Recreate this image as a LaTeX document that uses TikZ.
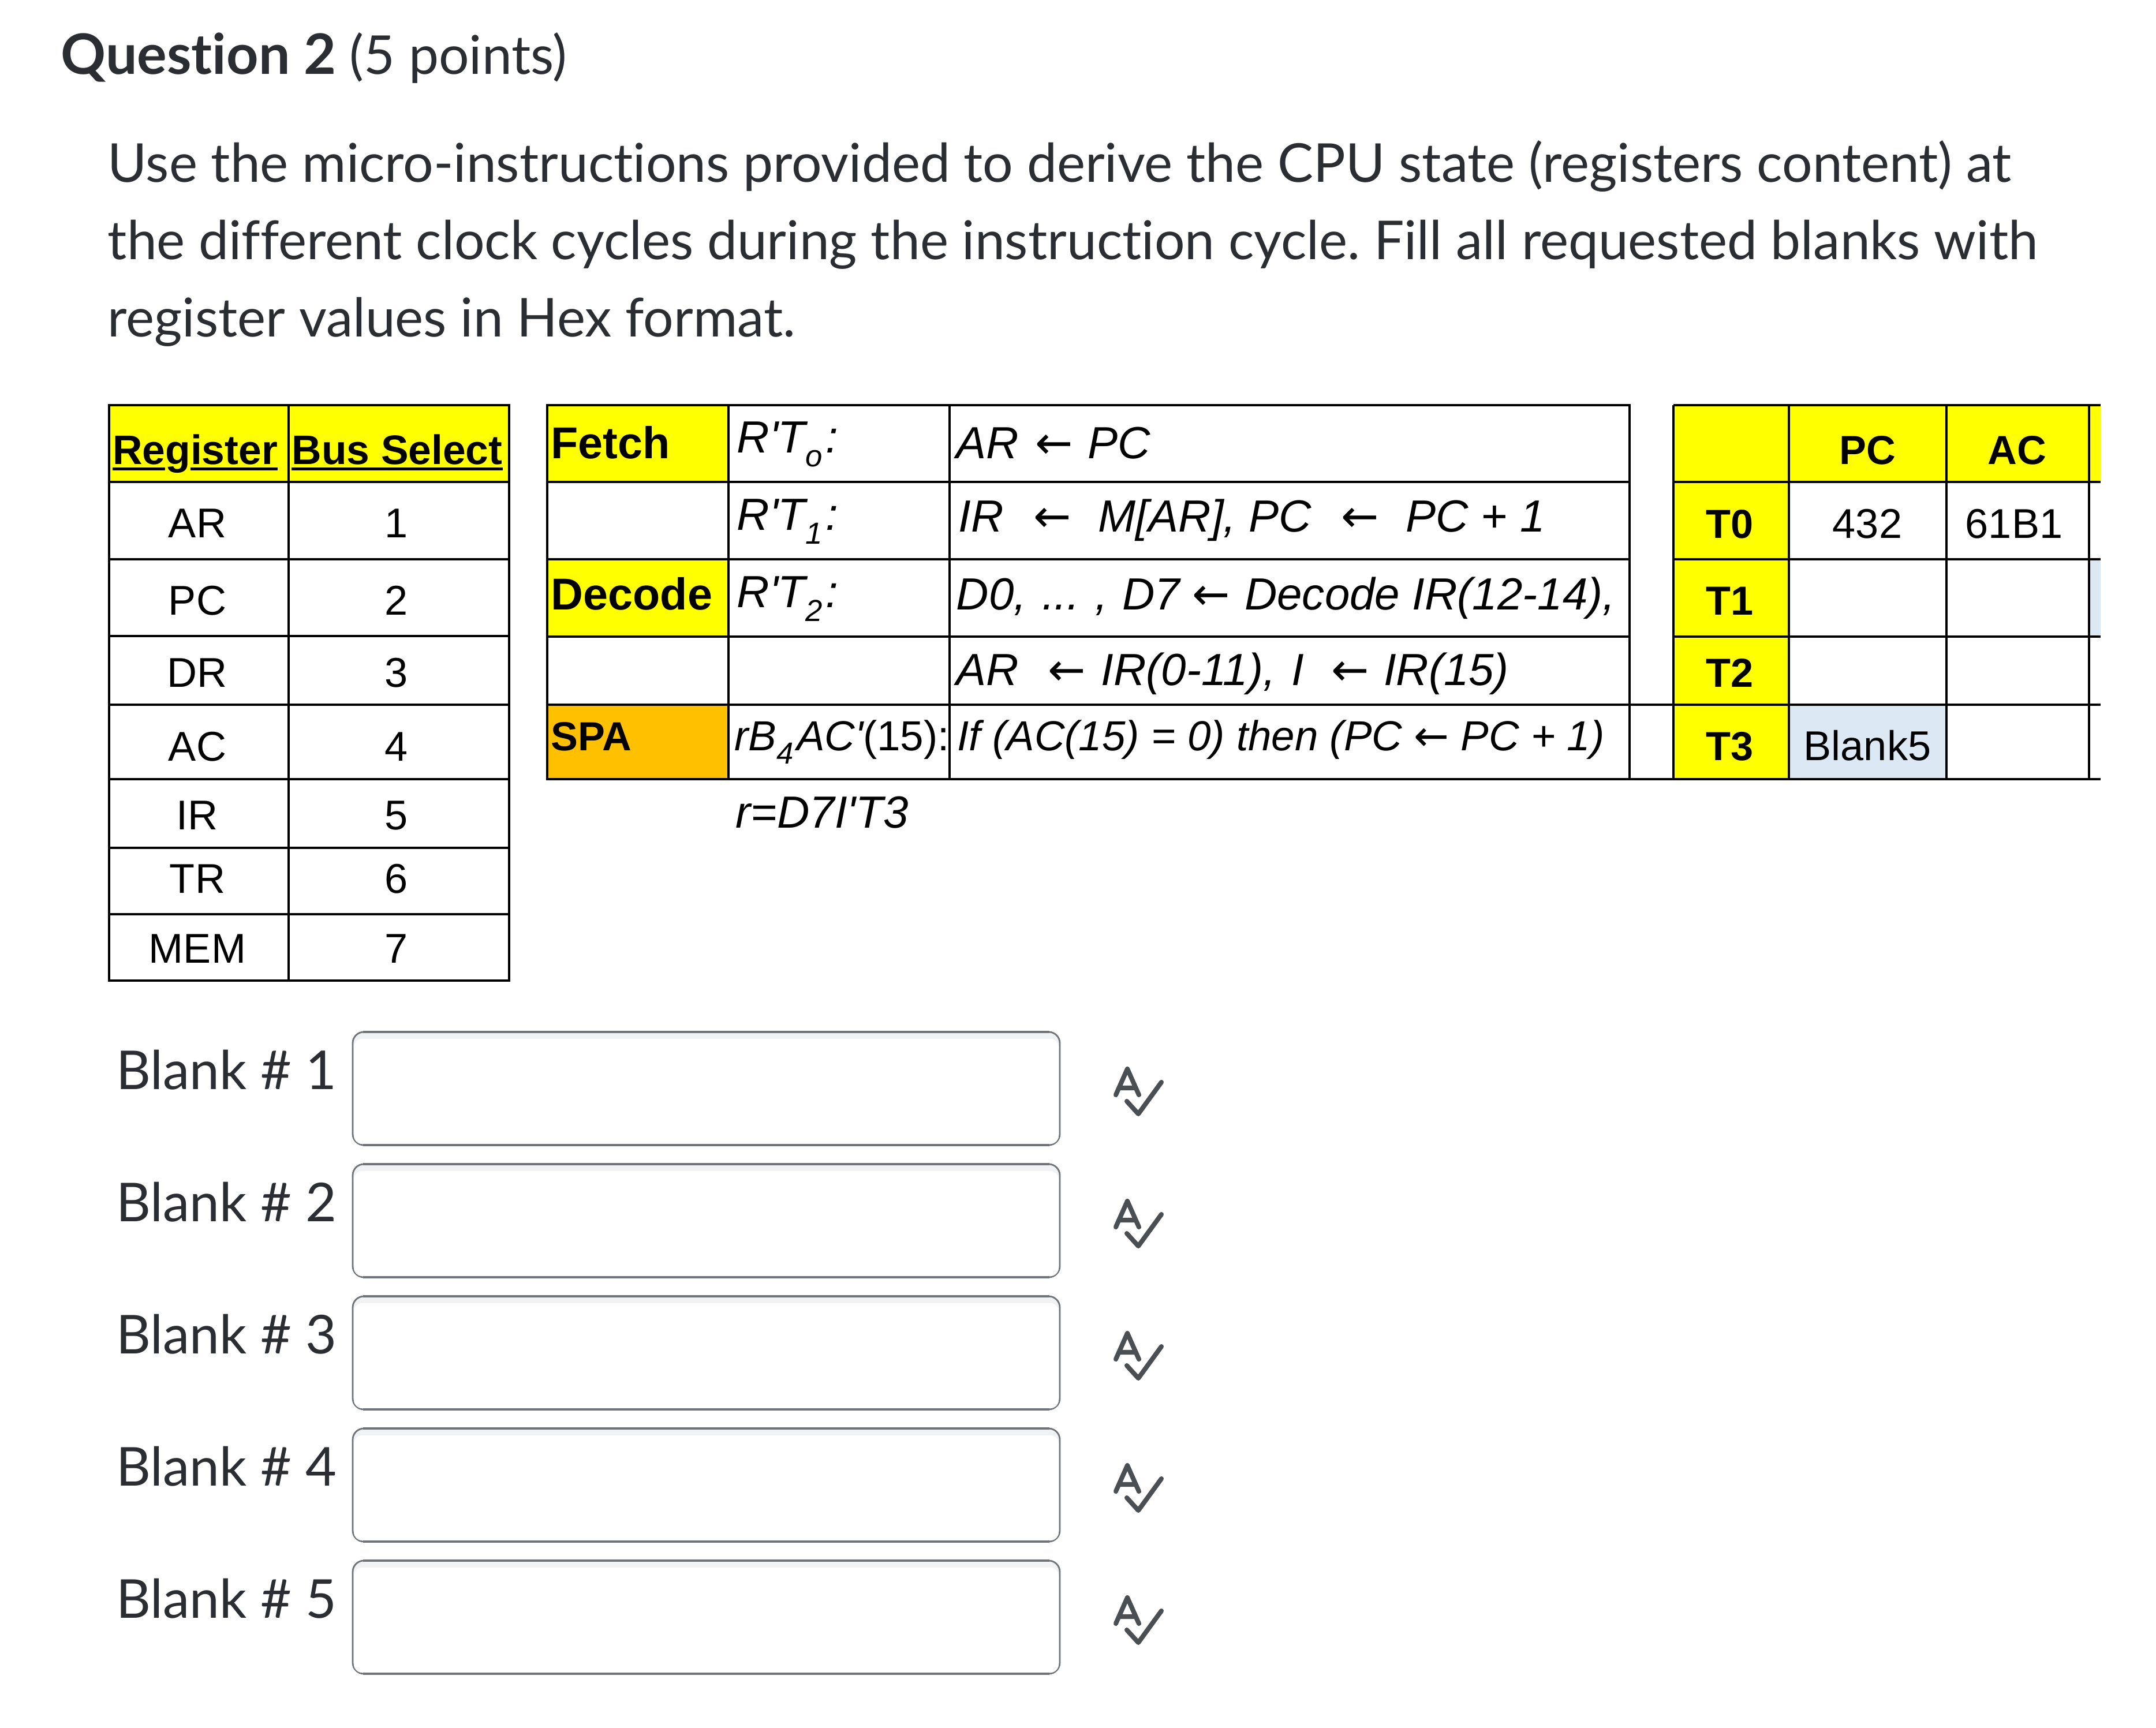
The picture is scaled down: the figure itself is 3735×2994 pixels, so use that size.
\documentclass[tikz,border=0pt]{standalone}
\usepackage{fontspec}
\setmainfont{Lato}[Ligatures=NoCommon]
\newfontfamily\tablefont{Liberation Sans}
\newfontfamily\arrowfont{DejaVu Sans}
\definecolor{canvasink}{HTML}{2A2E32}
\definecolor{boxedge}{HTML}{6E7479}
\definecolor{boxshade}{HTML}{F0F2F4}
\definecolor{iconink}{HTML}{4A4F54}
\definecolor{cellyellow}{HTML}{FFFF00}
\definecolor{cellorange}{HTML}{FFC000}
\definecolor{cellblue}{HTML}{DCE9F5}
\tikzset{
	lead/.style={anchor=base west, inner sep=0pt, text=canvasink, font=\fontsize{26.4}{30}\selectfont},
	rule/.style={line width=1.15pt, black},
	cell/.style={anchor=base, inner sep=0pt, font=\tablefont\fontsize{20.5}{24}\selectfont},
	headcell/.style={anchor=base, inner sep=0pt, font=\tablefont\bfseries\fontsize{20}{24}\selectfont},
	tagcell/.style={anchor=base west, inner sep=0pt, font=\tablefont\bfseries\fontsize{22}{26}\selectfont},
	step cell/.style={anchor=base west, inner sep=0pt, font=\tablefont\itshape\fontsize{22.2}{26}\selectfont},
	small step/.style={anchor=base west, inner sep=0pt, font=\tablefont\itshape\fontsize{20.7}{24}\selectfont},
	answerfield/.pic={
		\draw[draw=boxedge, line width=0.8pt, fill=boxshade, rounded corners=5.5pt] (0,0) rectangle (1225,196);
		\fill[white, rounded corners=4pt] (2,12) rectangle (1223,194);
		\draw[boxedge, line width=1.3pt] (18,0) -- (1207,0);
		\draw[boxedge, line width=1.3pt] (18,196) -- (1207,196);
	},
	spellcheck/.pic={
		\draw[iconink, line width=2.3pt, line cap=round, line join=round]
			(-20,45) -- (0,0) -- (20,45) (-12,33) -- (12,33)
			(-1,56) -- (19,78) -- (59,23);
	}
}
\newcommand{\lowsub}[1]{\raisebox{-0.32em}{\fontsize{15}{17}\selectfont #1}\kern1.5pt}
\newcommand{\larrow}{{\arrowfont\upshape ←}}
\newcommand{\barred}[1]{\setbox0\hbox{#1}\rlap{\rule[-3pt]{\wd0}{1.4pt}}\box0}
\begin{document}
\begin{tikzpicture}[x=0.01cm, y=-0.01cm]
	\useasboundingbox (0,0) rectangle (3735,2994);
	\frenchspacing

	\node[lead] (title) at (105,129) {{\fontsize{27.5}{30}\selectfont\textbf{Question 2}} (5 points)};
	\node[lead] (lineone) at (186,315) {Use the micro-instructions provided to derive the CPU state (registers content) at};
	\node[lead] (linetwo) at (186,449) {the different clock cycles during the instruction cycle. Fill all requested blanks with};
	\node[lead] (linethree) at (186,583) {register values in Hex format.};

	% colored cells
	\fill[cellyellow] (189,702) rectangle (882,835);
	\fill[cellyellow] (948,702) rectangle (1262,835);
	\fill[cellyellow] (948,969) rectangle (1262,1103);
	\fill[cellorange] (948,1221) rectangle (1262,1350);
	\fill[cellyellow] (2899,702) rectangle (3639,835);
	\fill[cellyellow] (2899,835) rectangle (3099,1350);
	\fill[cellblue] (3099,1221) rectangle (3372,1350);
	\fill[cellblue] (3619,969) rectangle (3639,1103);

	% registers
	\draw[rule] (189,702) rectangle (882,1699);
	\draw[rule] (500,702) -- (500,1699);
	\draw[rule] (189,835) -- (882,835);
	\draw[rule] (189,969) -- (882,969);
	\draw[rule] (189,1102) -- (882,1102);
	\draw[rule] (189,1221) -- (882,1221);
	\draw[rule] (189,1350) -- (882,1350);
	\draw[rule] (189,1469) -- (882,1469);
	\draw[rule] (189,1584) -- (882,1584);

	\node[headcell, font=\tablefont\bfseries\fontsize{20.3}{24}\selectfont] (reghead) at (338,804) {\barred{Re}g\barred{ister}};
	\node[headcell, font=\tablefont\bfseries\fontsize{20.3}{24}\selectfont] (bushead) at (688,804) {\barred{Bus Select}};
	\node[cell] (regar) at (342,931) {AR};
	\node[cell] (busar) at (687,931) {1};
	\node[cell] (regpc) at (342,1065) {PC};
	\node[cell] (buspc) at (687,1065) {2};
	\node[cell] (regdr) at (342,1190) {DR};
	\node[cell] (busdr) at (687,1190) {3};
	\node[cell] (regac) at (342,1318) {AC};
	\node[cell] (busac) at (687,1318) {4};
	\node[cell] (regir) at (342,1437) {IR};
	\node[cell] (busir) at (687,1437) {5};
	\node[cell] (regtr) at (342,1547) {TR};
	\node[cell] (bustr) at (687,1547) {6};
	\node[cell] (regmem) at (342,1668) {MEM};
	\node[cell] (busmem) at (687,1668) {7};

	% micro-instructions
	\draw[rule] (948,702) rectangle (2823,1350);
	\draw[rule] (1262,702) -- (1262,1350);
	\draw[rule] (1645,702) -- (1645,1350);
	\draw[rule] (948,835) -- (2823,835);
	\draw[rule] (948,969) -- (2823,969);
	\draw[rule] (948,1103) -- (2823,1103);
	\draw[rule] (948,1221) -- (2899,1221);
	\draw[rule] (2823,1350) -- (2899,1350);

	\node[tagcell] (fetchtag) at (954,794) {Fetch};
	\node[tagcell] (decodetag) at (954,1056) {Decode};
	\node[tagcell, font=\tablefont\bfseries\fontsize{20}{24}\selectfont] (spatag) at (954,1300) {SPA};
	\node[step cell] (stepzero) at (1276,784) {R'T\lowsub{o}:};
	\node[step cell] (stepone) at (1276,918) {R'T\lowsub{1}:};
	\node[step cell] (steptwo) at (1276,1052) {R'T\lowsub{2}:};
	\node[small step] (stepspa) at (1272,1300) {rB\lowsub{4}AC'{\upshape(15):}};
	\node[step cell] (rdef) at (1274,1434) {r=D7I'T3};
	\node[step cell] (actzero) at (1656,794) {AR \kern2pt\larrow{} \kern1pt PC};
	\node[step cell] (actone) at (1660,921) {IR\ \ \kern2.4pt\larrow{}\ \ \kern1pt M[AR], PC\ \ \kern2.4pt\larrow{}\ \ \kern1pt PC + 1};
	\node[step cell] (acttwo) at (1656,1056) {D0, \kern1.5pt... \kern1.5pt, \kern1pt D7 \larrow{} \kern1pt Decode IR(12-14),};
	\node[step cell] (actthree) at (1656,1187) {AR\ \ \kern2pt\larrow{} \kern1.4pt IR(0-11), \kern1.6pt I\ \ \kern1.2pt\larrow{} \kern1pt IR(15)};
	\node[small step] (actspa) at (1658,1300) {If (AC(15) = 0) then (PC \larrow{} PC + 1)};

	% clock cycles
	\draw[rule] (2899,702) -- (2899,1350);
	\draw[rule] (3099,702) -- (3099,1350);
	\draw[rule] (3372,702) -- (3372,1350);
	\draw[rule] (3619,702) -- (3619,1350);
	\draw[rule] (2899,702) -- (3639,702);
	\draw[rule] (2899,835) -- (3639,835);
	\draw[rule] (2899,969) -- (3639,969);
	\draw[rule] (2899,1103) -- (3639,1103);
	\draw[rule] (2899,1221) -- (3639,1221);
	\draw[rule] (2899,1350) -- (3639,1350);

	\node[headcell] (pchead) at (3235,804) {PC};
	\node[headcell] (achead) at (3494,804) {AC};
	\node[headcell] (tzero) at (2997,932) {T0};
	\node[headcell] (tone) at (2997,1065) {T1};
	\node[headcell] (ttwo) at (2997,1190) {T2};
	\node[headcell] (tthree) at (2997,1317) {T3};
	\node[cell] (pczero) at (3235,932) {432};
	\node[cell] (aczero) at (3489,932) {61B1};
	\node[cell] (pcthree) at (3235,1317) {Blank5};

	% answers
	\node[lead] (blankone) at (201,1887) {Blank \# 1};
	\node[lead] (blanktwo) at (201,2116) {Blank \# 2};
	\node[lead] (blankthree) at (201,2345) {Blank \# 3};
	\node[lead] (blankfour) at (201,2574) {Blank \# 4};
	\node[lead] (blankfive) at (201,2803) {Blank \# 5};

	\pic (fieldone) at (611,1788) {answerfield};
	\pic (fieldtwo) at (611,2017) {answerfield};
	\pic (fieldthree) at (611,2246) {answerfield};
	\pic (fieldfour) at (611,2475) {answerfield};
	\pic (fieldfive) at (611,2704) {answerfield};

	\pic (iconone) at (1953,1852) {spellcheck};
	\pic (icontwo) at (1953,2081) {spellcheck};
	\pic (iconthree) at (1953,2310) {spellcheck};
	\pic (iconfour) at (1953,2539) {spellcheck};
	\pic (iconfive) at (1953,2768) {spellcheck};
\end{tikzpicture}
\end{document}
